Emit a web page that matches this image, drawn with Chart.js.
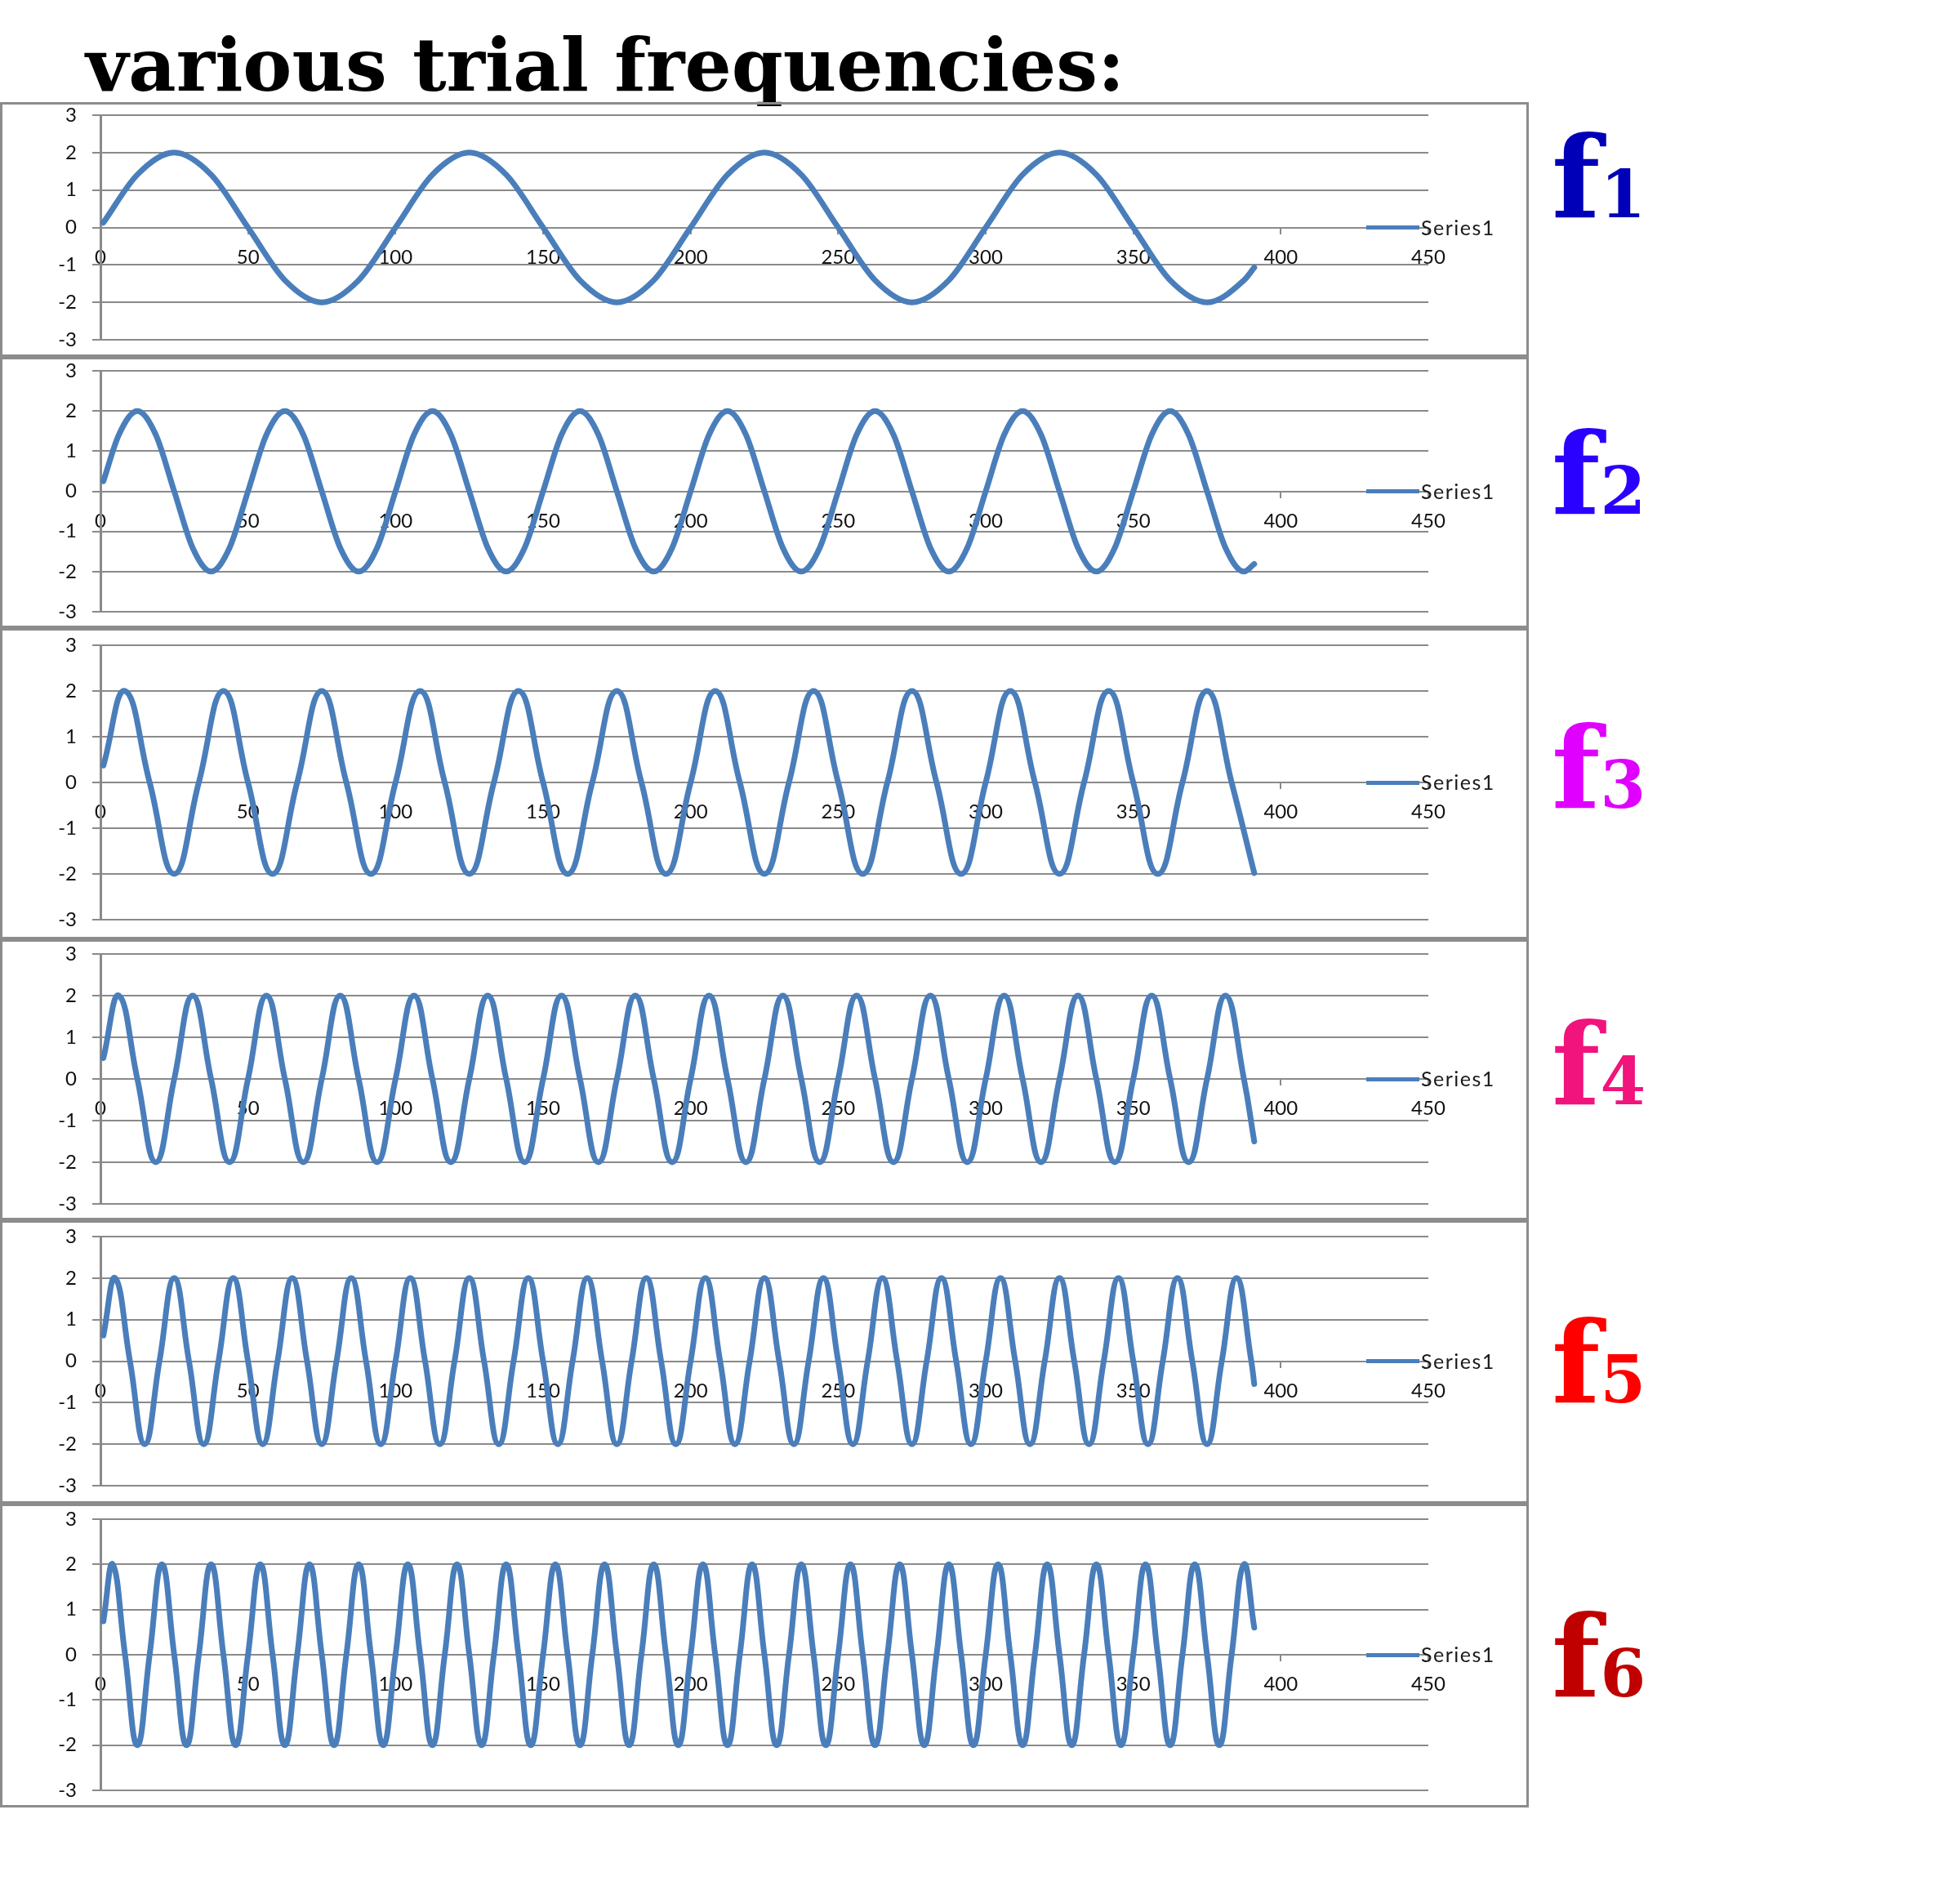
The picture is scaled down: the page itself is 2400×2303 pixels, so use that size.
<!DOCTYPE html>
<html>
<head>
<meta charset="utf-8">
<script src="https://cdn.jsdelivr.net/npm/chart.js@4.4.1/dist/chart.umd.min.js"></script>
<style>
html,body{margin:0;padding:0;background:#fff;}
body{width:2400px;height:2303px;position:relative;overflow:hidden;}
canvas{position:absolute;left:0;}
.panel{position:absolute;left:0;width:1872px;box-sizing:border-box;border:3px solid #8c8c8c;pointer-events:none;}
.title{position:absolute;left:105px;top:34px;font-family:"DejaVu Serif",serif;font-weight:bold;font-size:90px;line-height:1;white-space:nowrap;transform-origin:0 0;color:#000;}
.flab{position:absolute;left:1900px;font-family:"DejaVu Serif",serif;font-weight:bold;font-size:138px;line-height:1;white-space:nowrap;}
.flab span{font-size:80px;}
.legline{position:absolute;left:1673px;width:65px;height:5px;background:#4A7EBB;}
.legtxt{position:absolute;left:1740px;font-family:Lato,sans-serif;font-size:25px;line-height:1;letter-spacing:1.5px;color:#1a1a1a;white-space:nowrap;}
</style>
</head>
<body>
<div class="title" id="title">various trial frequencies:</div>
<script>
// ---------- data ----------
const titleText = "various trial frequencies:";
const seriesName = "Series1";
const panelLetters = ["f", "f", "f", "f", "f", "f"];
const panelDigits = ["1", "2", "3", "4", "5", "6"];
const xTicks = [0, 50, 100, 150, 200, 250, 300, 350, 400, 450];
const yTicks = [-3, -2, -1, 0, 1, 2, 3];

const f1X = [1,12.5,25,37.5,50,62.5,75,87.5,100,112.5,125,137.5,150,162.5,175,187.5,200,212.5,225,237.5,250,262.5,275,287.5,300,312.5,325,337.5,350,362.5,375,387.5,391];
const f1Y = [0.13,
  1.41,2,1.41,0,-1.41,-2,-1.41,0,
  1.41,2,1.41,0,-1.41,-2,-1.41,0,
  1.41,2,1.41,0,-1.41,-2,-1.41,0,
  1.41,2,1.41,0,-1.41,-2,-1.41,
  -1.07];

const f2X = [1,
  6.25,12.5,18.75,25,31.25,37.5,43.75,50,56.25,62.5,68.75,75,81.25,87.5,93.75,100,
  106.25,112.5,118.75,125,131.25,137.5,143.75,150,156.25,162.5,168.75,175,181.25,187.5,193.75,200,
  206.25,212.5,218.75,225,231.25,237.5,243.75,250,256.25,262.5,268.75,275,281.25,287.5,293.75,300,
  306.25,312.5,318.75,325,331.25,337.5,343.75,350,356.25,362.5,368.75,375,381.25,387.5,
  391];
const f2Y = [0.25,
  1.41,2,1.41,0,-1.41,-2,-1.41,0, 1.41,2,1.41,0,-1.41,-2,-1.41,0,
  1.41,2,1.41,0,-1.41,-2,-1.41,0, 1.41,2,1.41,0,-1.41,-2,-1.41,0,
  1.41,2,1.41,0,-1.41,-2,-1.41,0, 1.41,2,1.41,0,-1.41,-2,-1.41,0,
  1.41,2,1.41,0,-1.41,-2,-1.41,0, 1.41,2,1.41,0,-1.41,-2,
  -1.81];

const f3X = [1,
  8.33,16.67,25,33.33,41.67,50,58.33,66.67,75,83.33,91.67,100,
  108.33,116.67,125,133.33,141.67,150,158.33,166.67,175,183.33,191.67,200,
  208.33,216.67,225,233.33,241.67,250,258.33,266.67,275,283.33,291.67,300,
  308.33,316.67,325,333.33,341.67,350,358.33,366.67,375,383.33,
  391];
const f3Y = [0.37,
  2,0,-2,0, 2,0,-2,0, 2,0,-2,0,
  2,0,-2,0, 2,0,-2,0, 2,0,-2,0,
  2,0,-2,0, 2,0,-2,0, 2,0,-2,0,
  2,0,-2,0, 2,0,-2,0, 2,0,
  -1.98];

const f4X = [1,
  6.25,12.5,18.75,25,31.25,37.5,43.75,50,56.25,62.5,68.75,75,81.25,87.5,93.75,100,
  106.25,112.5,118.75,125,131.25,137.5,143.75,150,156.25,162.5,168.75,175,181.25,187.5,193.75,200,
  206.25,212.5,218.75,225,231.25,237.5,243.75,250,256.25,262.5,268.75,275,281.25,287.5,293.75,300,
  306.25,312.5,318.75,325,331.25,337.5,343.75,350,356.25,362.5,368.75,375,381.25,387.5,
  391];
const f4Y = [0.5,
  2,0,-2,0, 2,0,-2,0, 2,0,-2,0, 2,0,-2,0,
  2,0,-2,0, 2,0,-2,0, 2,0,-2,0, 2,0,-2,0,
  2,0,-2,0, 2,0,-2,0, 2,0,-2,0, 2,0,-2,0,
  2,0,-2,0, 2,0,-2,0, 2,0,-2,0, 2,0,
  -1.5];

const f5X = [1,
  5,10,15,20,25,30,35,40,45,50,55,60,65,70,75,80,85,90,95,100,
  105,110,115,120,125,130,135,140,145,150,155,160,165,170,175,180,185,190,195,200,
  205,210,215,220,225,230,235,240,245,250,255,260,265,270,275,280,285,290,295,300,
  305,310,315,320,325,330,335,340,345,350,355,360,365,370,375,380,385,390,
  391];
const f5Y = [0.62,
  2,0,-2,0, 2,0,-2,0, 2,0,-2,0, 2,0,-2,0, 2,0,-2,0,
  2,0,-2,0, 2,0,-2,0, 2,0,-2,0, 2,0,-2,0, 2,0,-2,0,
  2,0,-2,0, 2,0,-2,0, 2,0,-2,0, 2,0,-2,0, 2,0,-2,0,
  2,0,-2,0, 2,0,-2,0, 2,0,-2,0, 2,0,-2,0, 2,0,
  -0.55];

const f6X = [1,
  4.17,8.33,12.5,16.67,20.83,25,29.17,33.33,37.5,41.67,45.83,50,54.17,58.33,62.5,66.67,70.83,75,79.17,83.33,87.5,91.67,95.83,100,
  104.17,108.33,112.5,116.67,120.83,125,129.17,133.33,137.5,141.67,145.83,150,154.17,158.33,162.5,166.67,170.83,175,179.17,183.33,187.5,191.67,195.83,200,
  204.17,208.33,212.5,216.67,220.83,225,229.17,233.33,237.5,241.67,245.83,250,254.17,258.33,262.5,266.67,270.83,275,279.17,283.33,287.5,291.67,295.83,300,
  304.17,308.33,312.5,316.67,320.83,325,329.17,333.33,337.5,341.67,345.83,350,354.17,358.33,362.5,366.67,370.83,375,379.17,383.33,387.5,
  391];
const f6Y = [0.74,
  2,0,-2,0, 2,0,-2,0, 2,0,-2,0, 2,0,-2,0, 2,0,-2,0, 2,0,-2,0,
  2,0,-2,0, 2,0,-2,0, 2,0,-2,0, 2,0,-2,0, 2,0,-2,0, 2,0,-2,0,
  2,0,-2,0, 2,0,-2,0, 2,0,-2,0, 2,0,-2,0, 2,0,-2,0, 2,0,-2,0,
  2,0,-2,0, 2,0,-2,0, 2,0,-2,0, 2,0,-2,0, 2,0,-2,0, 2,
  0.6];

// ---------- layout / style ----------
const allX = [f1X, f2X, f3X, f4X, f5X, f6X];
const allY = [f1Y, f2Y, f3Y, f4Y, f5Y, f6Y];
const interp = ['monotone', 'monotone', 'default', 'default', 'default', 'default'];
const tensions = [0.4, 0.4, 0.45, 0.45, 0.45, 0.45];
const tickSizes = [24, 24, 24, 24, 24, 24];
const labelColors = ["#0000B8", "#2A00FF", "#E000FF", "#F0147C", "#FF0000", "#C00000"];
const PANELS = [
  {top:125,  g3:141,  gm3:416},
  {top:437,  g3:454,  gm3:749},
  {top:769,  g3:790,  gm3:1126},
  {top:1150, g3:1168, gm3:1474},
  {top:1494, g3:1514, gm3:1819},
  {top:1841, g3:1860, gm3:2192}
];
const LAST_BOTTOM = 2213;
const LABEL_BASELINES = [266, 629, 989, 1352, 1717, 2077];
const PANEL_W = 1872, PLOT_LEFT = 123, PLOT_RIGHT = 1749;
const GRID = '#8a8a8a', LINE = '#4A7EBB', TXT = '#111111';

document.getElementById('title').textContent = titleText;

PANELS.forEach((p, i) => {
  const bottom = i < PANELS.length - 1 ? PANELS[i + 1].top : LAST_BOTTOM;
  const h = bottom - p.top;
  const canvas = document.createElement('canvas');
  canvas.width = PANEL_W; canvas.height = h;
  canvas.style.width = PANEL_W + 'px'; canvas.style.height = h + 'px';
  canvas.style.top = p.top + 'px';
  document.body.appendChild(canvas);

  const font = {family: 'Lato', size: tickSizes[i]};
  const pts = allX[i].map((x, j) => ({x: x, y: allY[i][j]}));
  const chart = new Chart(canvas, {
    type: 'line',
    data: {datasets: [{label: seriesName, data: pts, borderColor: LINE, borderWidth: 7,
      pointRadius: 0, fill: false, tension: tensions[i], cubicInterpolationMode: interp[i],
      borderJoinStyle: 'round', borderCapStyle: 'round'}]},
    options: {
      responsive: false, animation: false, devicePixelRatio: 1,
      layout: {padding: {left: 0, right: PANEL_W - PLOT_RIGHT, top: p.g3 - p.top, bottom: bottom - p.gm3}},
      plugins: {legend: {display: false}, tooltip: {enabled: false}, title: {display: false}},
      scales: {
        x: {
          type: 'linear', min: 0, max: 450, position: {y: 0},
          afterBuildTicks: s => { s.ticks = xTicks.map(v => ({value: v})); },
          afterFit: s => { s.height = 0; s.paddingLeft = 0; s.paddingRight = 0; s.paddingTop = 0; s.paddingBottom = 0; },
          grid: {display: true, drawOnChartArea: false, drawTicks: true, tickLength: 8, color: GRID, lineWidth: 2},
          border: {display: false},
          ticks: {font: font, color: TXT, padding: 14, maxRotation: 0, autoSkip: false}
        },
        y: {
          type: 'linear', min: -3, max: 3,
          afterBuildTicks: s => { s.ticks = yTicks.map(v => ({value: v})); },
          afterFit: s => { s.width = PLOT_LEFT; s.paddingTop = 0; s.paddingBottom = 0; s.paddingLeft = 0; s.paddingRight = 0; },
          grid: {color: GRID, lineWidth: 2, tickLength: 10},
          border: {display: true, color: GRID, width: 3},
          ticks: {font: font, color: TXT, padding: 19}
        }
      }
    }
  });

  const box = document.createElement('div');
  box.className = 'panel';
  box.style.top = p.top + 'px';
  box.style.height = h + 'px';
  document.body.appendChild(box);

  const zeroY = p.top + chart.scales.y.getPixelForValue(0);
  const ll = document.createElement('div');
  ll.className = 'legline';
  ll.style.top = (zeroY - 2.5) + 'px';
  document.body.appendChild(ll);
  const lt = document.createElement('div');
  lt.className = 'legtxt';
  lt.textContent = seriesName;
  lt.style.top = (zeroY - 13) + 'px';
  document.body.appendChild(lt);

  const fl = document.createElement('div');
  fl.className = 'flab';
  fl.style.color = labelColors[i];
  fl.style.top = (LABEL_BASELINES[i] - 0.846 * 138) + 'px';
  fl.appendChild(document.createTextNode(panelLetters[i]));
  const sp = document.createElement('span');
  sp.textContent = panelDigits[i];
  fl.appendChild(sp);
  document.body.appendChild(fl);
});

const t = document.getElementById('title');
const fit = () => { const w = t.offsetWidth; if (w > 0) t.style.transform = 'scaleX(' + (1272 / w) + ')'; };
fit();
if (document.fonts && document.fonts.ready) document.fonts.ready.then(fit);
</script>
</body>
</html>
